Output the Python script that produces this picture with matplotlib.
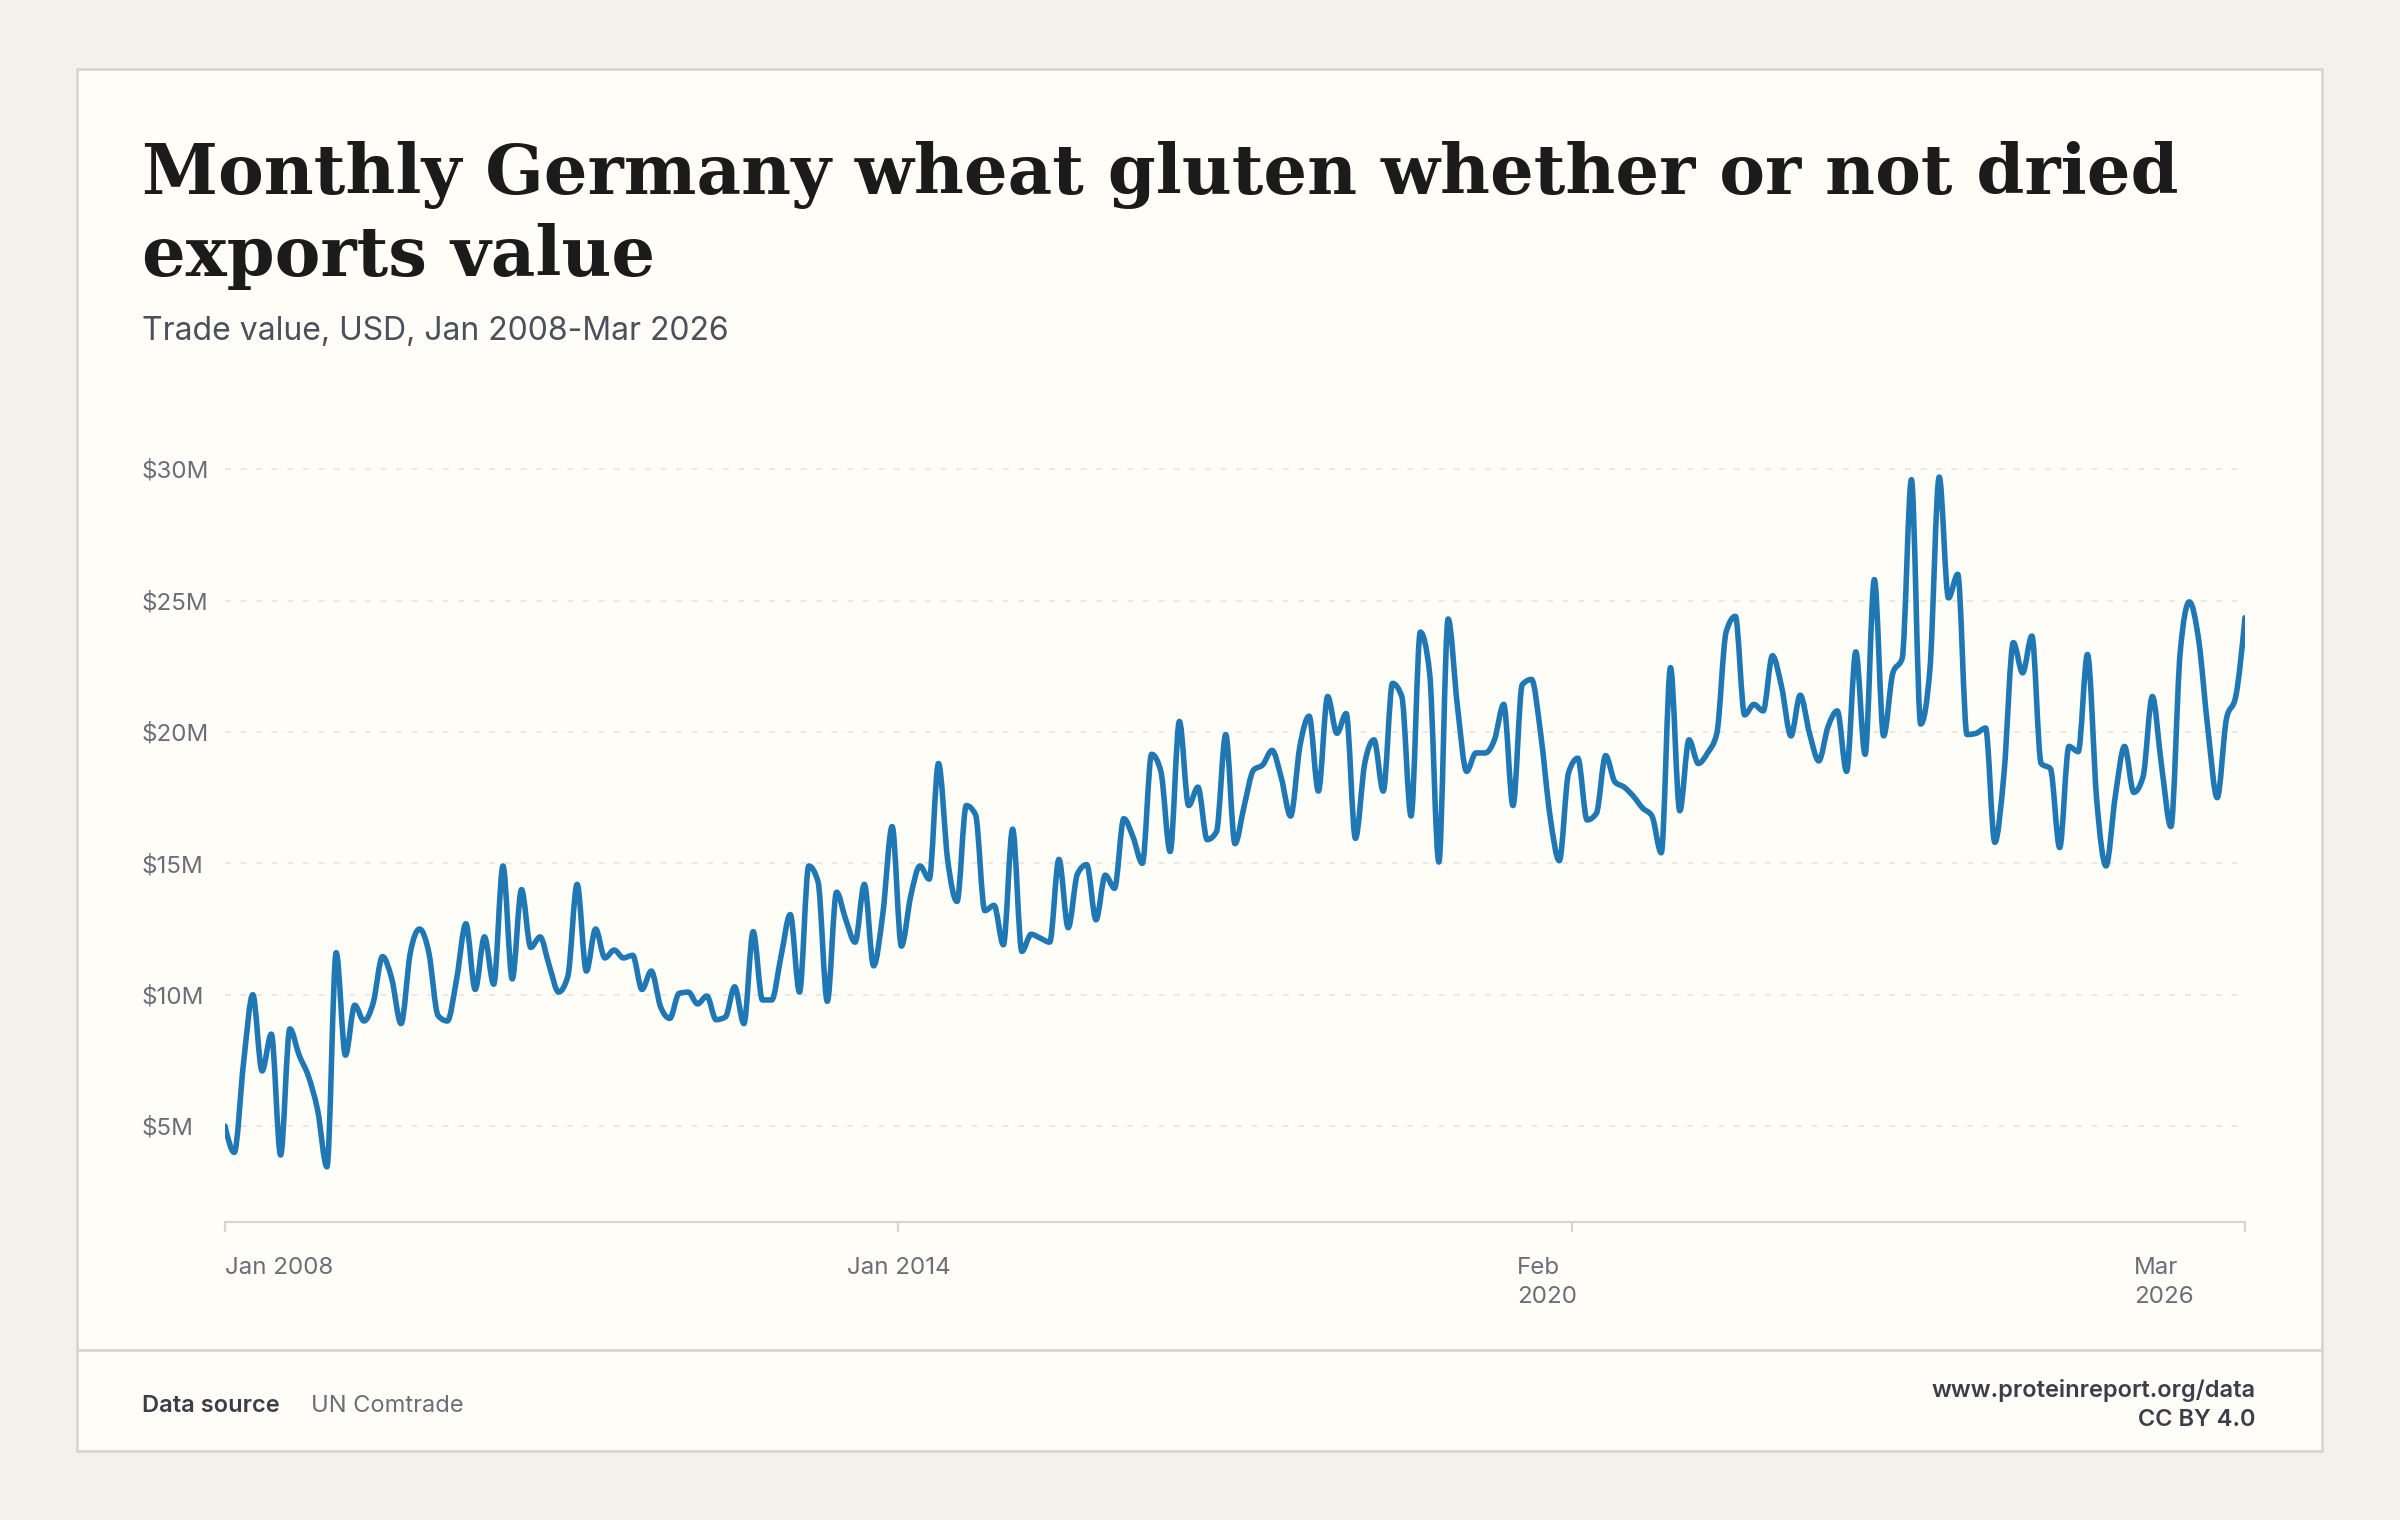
import numpy as np
import matplotlib
matplotlib.use("Agg")
import matplotlib.pyplot as plt
from matplotlib.patches import Rectangle, PathPatch
from matplotlib.lines import Line2D
from matplotlib.path import Path

W, H, DPI = 2400, 1520, 200
BG = "#f4f1eb"
CARD = "#fefdf8"
EDGE = "#d9d5cb"
GRID = "#ebe8e0"
BLUE = "#1f77b4"
INK = "#1b1b1b"
SUB = "#4b505c"
MUTED = "#6b6e78"
DARK = "#3b3e48"
SANS = ["Inter", "DejaVu Sans"]

# monthly export value, $M, Jan 2008 - Mar 2026
m2008_2011 = [
    5.0, 4.0, 7.4, 10.0, 7.1, 8.5, 3.9, 8.7, 7.7, 6.9, 5.6, 3.45,
    11.6, 7.7, 9.6, 9.0, 9.7, 11.45, 10.6, 8.9, 11.6, 12.5, 11.6, 9.2,
    9.0, 10.6, 12.7, 10.2, 12.2, 10.4, 14.9, 10.6, 14.0, 11.8, 12.2, 11.1,
    10.1, 10.7, 14.2, 10.9, 12.5, 11.4, 11.7, 11.4, 11.5, 10.2, 10.9, 9.55,
]
m2012_2015 = [
    9.1, 10.05, 10.1, 9.65, 9.95, 9.05, 9.15, 10.3, 8.9, 12.4, 9.8, 9.8,
    11.45, 13.05, 10.1, 14.9, 14.3, 9.75, 13.9, 12.85, 12.0, 14.2, 11.1, 13.1,
    16.4, 11.85, 13.75, 14.9, 14.4, 18.8, 15.1, 13.55, 17.2, 16.85, 13.2, 13.4,
    11.9, 16.3, 11.65, 12.3, 12.15, 12.0, 15.15, 12.55, 14.6, 14.95, 12.85, 14.55,
]
m2016_2019 = [
    14.05, 16.7, 16.0, 15.0, 19.15, 18.5, 15.45, 20.4, 17.2, 17.9, 15.9, 16.2,
    19.9, 15.75, 17.2, 18.55, 18.75, 19.3, 18.25, 16.8, 19.45, 20.6, 17.75, 21.35,
    19.95, 20.7, 15.95, 18.8, 19.7, 17.75, 21.85, 21.35, 16.8, 23.8, 22.25, 15.05,
    24.3, 21.0, 18.5, 19.2, 19.2, 19.7, 21.05, 17.2, 21.8, 22.0, 19.9, 16.8,
]
m2020_2023 = [
    15.1, 18.45, 19.0, 16.65, 16.9, 19.1, 18.1, 17.9, 17.55, 17.1, 16.8, 15.4,
    22.45, 17.0, 19.7, 18.8, 19.2, 19.95, 23.8, 24.4, 20.65, 21.05, 20.8, 22.9,
    21.7, 19.85, 21.4, 19.95, 18.9, 20.2, 20.8, 18.5, 23.05, 19.15, 25.8, 19.85,
    22.25, 22.8, 29.6, 20.3, 22.4, 29.7, 25.1, 26.0, 19.9, 19.95, 20.15, 15.8,
]
m2024_2026 = [
    18.45, 23.4, 22.25, 23.65, 18.8, 18.6, 15.6, 19.45, 19.25, 22.95, 17.4, 14.9,
    17.55, 19.45, 17.7, 18.3, 21.35, 18.7, 16.4, 23.0, 24.95, 23.5, 20.1, 17.5,
    20.5, 21.35, 24.35,
]

y_ticks = [5, 10, 15, 20, 25, 30]
y_labels = ["\\$5M", "\\$10M", "\\$15M", "\\$20M", "\\$25M", "\\$30M"]
x_labels = ["Jan 2008", "Jan 2014", "Feb\n2020", "Mar\n2026"]


def fx(px):
    return px / W


def fy(py):
    return 1 - py / H


def monotone_path(x, y):
    """Cubic Bezier path through the points, monotone in x (Steffen tangents)."""
    h = np.diff(x)
    s = np.diff(y) / h
    t = np.zeros_like(y)
    p = (s[:-1] * h[1:] + s[1:] * h[:-1]) / (h[:-1] + h[1:])
    t[1:-1] = (np.sign(s[:-1]) + np.sign(s[1:])) * np.minimum(
        np.minimum(np.abs(s[:-1]), np.abs(s[1:])), 0.5 * np.abs(p))
    t[0] = (3 * s[0] - t[1]) / 2
    t[-1] = (3 * s[-1] - t[-2]) / 2
    verts = [(x[0], y[0])]
    for i in range(len(x) - 1):
        d = h[i] / 3
        verts += [(x[i] + d, y[i] + t[i] * d), (x[i + 1] - d, y[i + 1] - t[i + 1] * d),
                  (x[i + 1], y[i + 1])]
    codes = [Path.MOVETO] + [Path.CURVE4] * (len(verts) - 1)
    return Path(verts, codes)


values = np.array(m2008_2011 + m2012_2015 + m2016_2019 + m2020_2023 + m2024_2026)
months = np.arange(len(values), dtype=float)

fig = plt.figure(figsize=(W / DPI, H / DPI), dpi=DPI, facecolor=BG)

# card + footer rule
fig.add_artist(Rectangle((fx(77), fy(1451)), (2322 - 77) / W, (1451 - 69) / H,
                         transform=fig.transFigure, fc=CARD, ec=EDGE, lw=1.0, zorder=0))
fig.add_artist(Line2D([fx(77), fx(2322)], [fy(1350), fy(1350)], transform=fig.transFigure,
                      color=EDGE, lw=1.0))

ax = fig.add_axes([fx(225), fy(1222), (2245 - 225) / W, (1222 - 460) / H])
ax.patch.set_visible(False)
ax.add_patch(PathPatch(monotone_path(months, values), fill=False, edgecolor=BLUE,
                       lw=2.0, joinstyle="round", capstyle="round", zorder=3))
ax.set_xlim(0, len(values) - 1)
ax.set_ylim(1.35, 30.35)

for s in ["top", "right", "left"]:
    ax.spines[s].set_visible(False)
ax.spines["bottom"].set_color(EDGE)
ax.spines["bottom"].set_linewidth(0.8)

ax.set_yticks(y_ticks)
ax.set_yticklabels(y_labels, ha="left", family=SANS)
ax.tick_params(axis="y", length=0, pad=29.9, labelsize=8.7, labelcolor=MUTED)
ax.grid(axis="y", color=GRID, lw=0.7, ls=(0, (3, 5)))

x_ticks = np.linspace(0, len(values) - 1, len(x_labels))
ax.set_xticks(x_ticks)
ax.set_xticklabels([])
ax.tick_params(axis="x", length=3.6, width=0.8, color=EDGE)

# tick labels: text left-aligned in a box that is left/centre/right on its tick
renderer = fig.canvas.get_renderer()
for i, (xt, lab) in enumerate(zip(x_ticks, x_labels)):
    probe = ax.text(0, 0, lab.replace("\n", " "), fontsize=8.7, family=SANS)
    w = probe.get_window_extent(renderer).width * 72 / DPI
    probe.remove()
    if i == 0:
        dx = 0
    elif i == len(x_labels) - 1:
        dx = -w
    else:
        dx = -w / 2
    ax.annotate(lab, xy=(xt, 0), xycoords=("data", "axes fraction"),
                xytext=(dx, -12.6), textcoords="offset points", ha="left",
                va="top", fontsize=8.7, family=SANS, color=MUTED,
                linespacing=1.42)

fig.text(fx(142), fy(276), "Monthly Germany wheat gluten whether or not dried\nexports value",
         family="DejaVu Serif", weight="bold", size=24.7, color=INK,
         va="baseline", linespacing=1.26)
fig.text(fx(142), fy(340), "Trade value, USD, Jan 2008-Mar 2026", family=SANS,
         size=11.5, color=SUB, va="baseline")

fig.text(fx(142), fy(1406), "Data source", family=SANS, weight="semibold",
         size=8.5, color=DARK, va="center")
fig.text(fx(311), fy(1406), "UN Comtrade", family=SANS, size=8.5, color=MUTED,
         va="center")
fig.text(fx(2256), fy(1391), "www.proteinreport.org/data", family=SANS,
         weight="semibold", size=8.5, color=DARK, va="center", ha="right")
fig.text(fx(2256), fy(1420), "CC BY 4.0", family=SANS, weight="semibold",
         size=8.5, color=DARK, va="center", ha="right")

fig.savefig("out.png", dpi=DPI, facecolor=BG)
